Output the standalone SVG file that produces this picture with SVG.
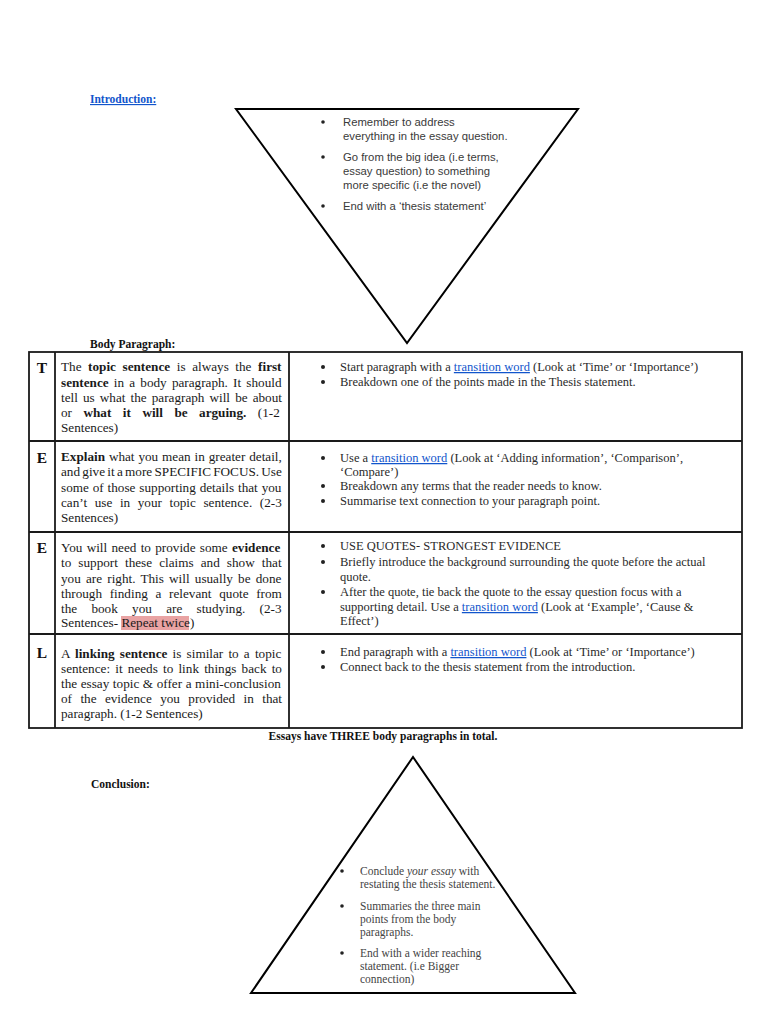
<svg xmlns="http://www.w3.org/2000/svg" width="768" height="1024" viewBox="0 0 768 1024">
<style>
.head{font-family:"Liberation Serif",serif;font-weight:bold;font-size:11.5px;fill:#111}
.link{fill:#1155cc;text-decoration:underline}
.intro{font-family:"Liberation Sans",Arial,sans-serif;font-size:11.3px;fill:#3a3a3a}
.cell{font-family:"Liberation Serif",serif;font-size:13.2px;fill:#1a1a1a}
.rt{font-family:"Liberation Serif",serif;font-size:12.5px;fill:#2a2a2a}
.letter{font-family:"Liberation Serif",serif;font-size:15.5px;font-weight:bold;fill:#111}
.concl{font-family:"Liberation Serif",serif;font-size:11.5px;fill:#444}
.b{font-weight:bold}
.tri{fill:none;stroke:#000;stroke-width:2;stroke-linejoin:miter}
.grid{fill:none;stroke:#1a1a1a;stroke-width:1.8}
.dot{fill:#222}
</style>
<rect width="768" height="1024" fill="#fff"/>

<g id="headings">
<text class="head link" x="90" y="103">Introduction:</text>
<text class="head" x="90" y="348">Body Paragraph:</text>
<text class="head" x="383" y="740" text-anchor="middle">Essays have THREE body paragraphs in total.</text>
<text class="head" x="91" y="788">Conclusion:</text>
</g>

<g id="introduction">
<polygon class="tri" points="236,109 578,109 407,343"/>
<circle class="dot" cx="323" cy="122" r="1.8"/>
<circle class="dot" cx="323" cy="157" r="1.8"/>
<circle class="dot" cx="323" cy="206" r="1.8"/>
<text class="intro" x="343" y="126">Remember to address</text>
<text class="intro" x="343" y="140">everything in the essay question.</text>
<text class="intro" x="343" y="161">Go from the big idea (i.e terms,</text>
<text class="intro" x="343" y="175">essay question) to something</text>
<text class="intro" x="343" y="189">more specific (i.e the novel)</text>
<text class="intro" x="343" y="210">End with a ‘thesis statement’</text>
</g>

<g id="table">
<rect class="grid" x="29" y="352" width="713" height="376"/>
<line class="grid" x1="55" y1="352" x2="55" y2="728"/>
<line class="grid" x1="289" y1="352" x2="289" y2="728"/>
<line class="grid" x1="29" y1="441" x2="742" y2="441"/>
<line class="grid" x1="29" y1="532" x2="742" y2="532"/>
<line class="grid" x1="29" y1="634" x2="742" y2="634"/>
</g>

<g id="row-T">
<text class="letter" x="42" y="373" text-anchor="middle">T</text>
<text class="cell" x="61" y="371" word-spacing="3.3">The <tspan class="b">topic sentence</tspan> is always the <tspan class="b">first</tspan></text>
<text class="cell" x="61" y="387" word-spacing="1.9"><tspan class="b">sentence</tspan> in a body paragraph. It should</text>
<text class="cell" x="61" y="402" word-spacing="1.8">tell us what the paragraph will be about</text>
<text class="cell" x="61" y="417" word-spacing="8.2">or <tspan class="b">what it will be arguing.</tspan> (1-2</text>
<text class="cell" x="61" y="432">Sentences)</text>
<circle class="dot" cx="323" cy="367" r="2"/>
<circle class="dot" cx="323" cy="382" r="2"/>
<text class="rt" x="340" y="371">Start paragraph with a <tspan class="link">transition word</tspan> (Look at ‘Time’ or ‘Importance’)</text>
<text class="rt" x="340" y="386">Breakdown one of the points made in the Thesis statement.</text>
</g>

<g id="row-E1">
<text class="letter" x="42" y="463" text-anchor="middle">E</text>
<text class="cell" x="61" y="461" word-spacing="0.6"><tspan class="b">Explain</tspan> what you mean in greater detail,</text>
<text class="cell" x="61" y="476" word-spacing="-1">and give it a more SPECIFIC FOCUS. Use</text>
<text class="cell" x="61" y="492" word-spacing="0.6">some of those supporting details that you</text>
<text class="cell" x="61" y="507" word-spacing="4.3">can’t use in your topic sentence. (2-3</text>
<text class="cell" x="61" y="522">Sentences)</text>
<circle class="dot" cx="323" cy="458" r="2"/>
<circle class="dot" cx="323" cy="486" r="2"/>
<circle class="dot" cx="323" cy="501" r="2"/>
<text class="rt" x="340" y="462">Use a <tspan class="link">transition word</tspan> (Look at ‘Adding information’, ‘Comparison’,</text>
<text class="rt" x="340" y="476">‘Compare’)</text>
<text class="rt" x="340" y="490">Breakdown any terms that the reader needs to know.</text>
<text class="rt" x="340" y="505">Summarise text connection to your paragraph point.</text>
</g>

<g id="row-E2">
<text class="letter" x="42" y="553" text-anchor="middle">E</text>
<rect x="121" y="616" width="68" height="14" fill="#e9a3a3"/>
<text class="cell" x="61" y="552" word-spacing="1">You will need to provide some <tspan class="b">evidence</tspan></text>
<text class="cell" x="61" y="567" word-spacing="3.8">to support these claims and show that</text>
<text class="cell" x="61" y="583" word-spacing="1.9">you are right. This will usually be done</text>
<text class="cell" x="61" y="598" word-spacing="4.4">through finding a relevant quote from</text>
<text class="cell" x="61" y="613" word-spacing="11">the book you are studying. (2-3</text>
<text class="cell" x="61" y="627">Sentences- Repeat twice)</text>
<circle class="dot" cx="323" cy="546" r="2"/>
<circle class="dot" cx="323" cy="562" r="2"/>
<circle class="dot" cx="323" cy="592" r="2"/>
<text class="rt" x="340" y="550">USE QUOTES- STRONGEST EVIDENCE</text>
<text class="rt" x="340" y="566">Briefly introduce the background surrounding the quote before the actual</text>
<text class="rt" x="340" y="581">quote.</text>
<text class="rt" x="340" y="596">After the quote, tie back the quote to the essay question focus with a</text>
<text class="rt" x="340" y="611">supporting detail. Use a <tspan class="link">transition word</tspan> (Look at ‘Example’, ‘Cause &amp;</text>
<text class="rt" x="340" y="625">Effect’)</text>
</g>

<g id="row-L">
<text class="letter" x="42" y="658" text-anchor="middle">L</text>
<text class="cell" x="61" y="658" word-spacing="1.9">A <tspan class="b">linking sentence</tspan> is similar to a topic</text>
<text class="cell" x="61" y="673" word-spacing="1.9">sentence: it needs to link things back to</text>
<text class="cell" x="61" y="688" word-spacing="0.3">the essay topic &amp; offer a mini-conclusion</text>
<text class="cell" x="61" y="703" word-spacing="5.1">of the evidence you provided in that</text>
<text class="cell" x="61" y="718">paragraph. (1-2 Sentences)</text>
<circle class="dot" cx="323" cy="652" r="2"/>
<circle class="dot" cx="323" cy="667" r="2"/>
<text class="rt" x="340" y="656">End paragraph with a <tspan class="link">transition word</tspan> (Look at ‘Time’ or ‘Importance’)</text>
<text class="rt" x="340" y="671">Connect back to the thesis statement from the introduction.</text>
</g>

<g id="conclusion">
<polygon class="tri" points="251,993 575,993 413,757"/>
<circle class="dot" cx="342" cy="871" r="1.8"/>
<circle class="dot" cx="342" cy="906" r="1.8"/>
<circle class="dot" cx="342" cy="953" r="1.8"/>
<text class="concl" x="360" y="875">Conclude <tspan font-style="italic">your essay</tspan> with</text>
<text class="concl" x="360" y="888">restating the thesis statement.</text>
<text class="concl" x="360" y="910">Summaries the three main</text>
<text class="concl" x="360" y="923">points from the body</text>
<text class="concl" x="360" y="936">paragraphs.</text>
<text class="concl" x="360" y="957">End with a wider reaching</text>
<text class="concl" x="360" y="970">statement. (i.e Bigger</text>
<text class="concl" x="360" y="983">connection)</text>
</g>
</svg>
